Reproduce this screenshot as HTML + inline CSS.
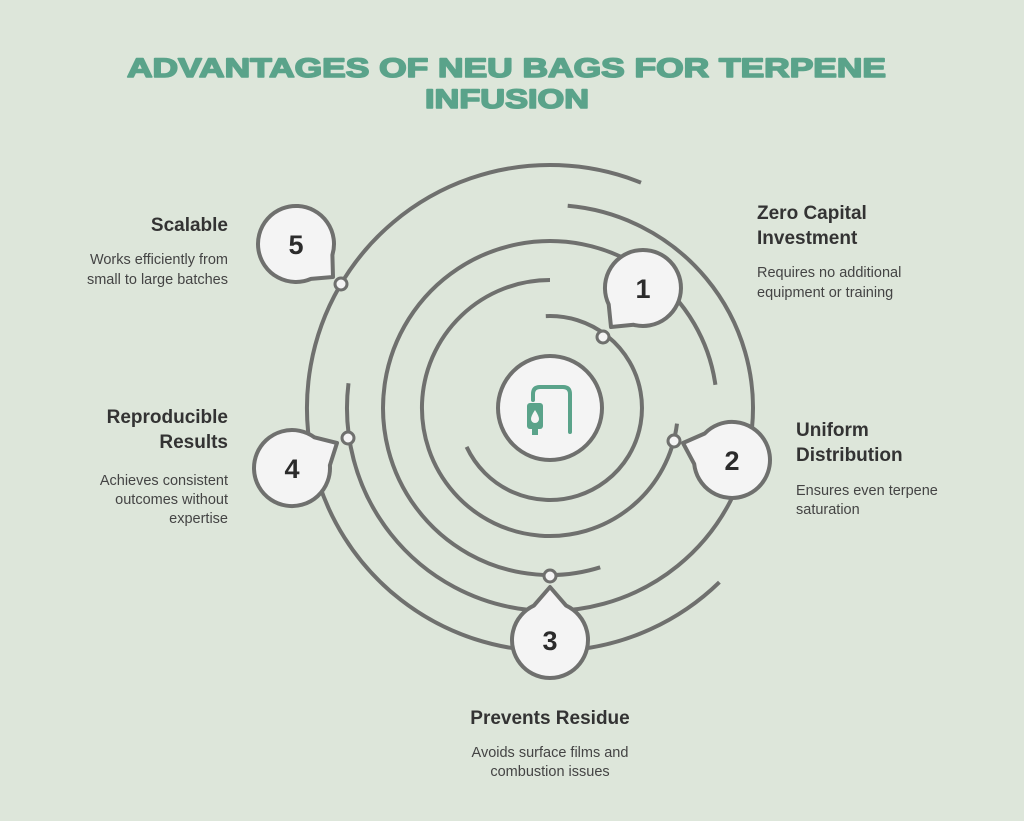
<!DOCTYPE html>
<html><head><meta charset="utf-8"><style>
html,body{margin:0;padding:0;background:#dde6da;}
svg{display:block;}
.h{font-family:"Liberation Sans",sans-serif;font-weight:bold;font-size:19px;fill:#333;}
.d{font-family:"Liberation Sans",sans-serif;font-size:14.5px;fill:#444;}
.n{font-family:"Liberation Sans",sans-serif;font-weight:bold;font-size:27px;fill:#2b2b2b;}
</style></head><body>
<svg width="1024" height="821" viewBox="0 0 1024 821" xmlns="http://www.w3.org/2000/svg">
<rect width="1024" height="821" fill="#dde6da"/>
<g font-family="Liberation Sans, sans-serif" font-weight="bold" font-size="27" fill="#5aa38a" stroke="#5aa38a" stroke-width="1.6" stroke-linejoin="round">
<text x="127" y="77" textLength="759" lengthAdjust="spacingAndGlyphs">ADVANTAGES OF NEU BAGS FOR TERPENE</text>
<text x="425" y="108" textLength="164" lengthAdjust="spacingAndGlyphs">INFUSION</text>
</g>
<g fill="none" stroke="#6f706e" stroke-width="4" stroke-linecap="butt">
<path d="M545.8 316.1 A92 92 0 1 1 466.6 446.9"/>
<path d="M550 280 A128 128 0 1 0 677 423.6"/>
<path d="M715.4 384.8 A167 167 0 1 0 600.2 567.3"/>
<path d="M348.5 383.3 A203 203 0 1 0 567.7 205.8"/>
<path d="M641 182.7 A243 243 0 1 0 719.4 582.2"/>
</g>
<circle cx="550" cy="408" r="52" fill="#f4f4f4" stroke="#6f706e" stroke-width="4"/>
<g fill="none" stroke="#5aa38a" stroke-width="4" stroke-linecap="round">
<path d="M533 400 V394 Q533 387 540 387 H563 Q570 387 570 394 V432"/>
</g>
<rect x="527" y="403" width="16" height="26" rx="3" fill="#5aa38a"/>
<rect x="532" y="429" width="6" height="6" fill="#5aa38a"/>
<path d="M535 410 Q531 416 531 419 A4 4 0 0 0 539 419 Q539 416 535 410Z" fill="#f4f4f4"/>
<g fill="#f4f4f4" stroke="#6f706e" stroke-width="3">
<circle cx="603" cy="337" r="6"/>
<circle cx="674" cy="441" r="6"/>
<circle cx="550" cy="576" r="6"/>
<circle cx="348" cy="438" r="6"/>
<circle cx="341" cy="284" r="6"/>
</g>
<g stroke="#6f706e" stroke-width="4" fill="#f4f4f4" stroke-linejoin="round">
<path d="M633.6 324.8 L611 327 L608.7 304.4 A38 38 0 1 1 633.6 324.8 Z"/>
<path d="M694.2 463.9 L683 443 L704.7 433.5 A38 38 0 1 1 694.2 463.9 Z"/>
<path d="M533.9 605.6 L550 587 L566.1 605.6 A38 38 0 1 1 533.9 605.6 Z"/>
<path d="M314.3 437.3 L337 443 L329.9 465.3 A38 38 0 1 1 314.3 437.3 Z"/>
<path d="M332.4 254.9 L333 277 L311 278.9 A38 38 0 1 1 332.4 254.9 Z"/>
</g>
<g text-anchor="middle">
<text x="643" y="298" class="n">1</text>
<text x="732" y="470" class="n">2</text>
<text x="550" y="650" class="n">3</text>
<text x="292" y="478" class="n">4</text>
<text x="296" y="254" class="n">5</text>
</g>
<text class="h" x="757" y="219">Zero Capital</text>
<text class="h" x="757" y="244">Investment</text>
<text class="d" x="757" y="277">Requires no additional</text>
<text class="d" x="757" y="297">equipment or training</text>
<text class="h" x="796" y="436">Uniform</text>
<text class="h" x="796" y="461">Distribution</text>
<text class="d" x="796" y="495">Ensures even terpene</text>
<text class="d" x="796" y="514">saturation</text>
<g text-anchor="middle">
<text class="h" x="550" y="724">Prevents Residue</text>
<text class="d" x="550" y="757">Avoids surface films and</text>
<text class="d" x="550" y="776">combustion issues</text>
</g>
<g text-anchor="end">
<text class="h" x="228" y="231">Scalable</text>
<text class="d" x="228" y="264">Works efficiently from</text>
<text class="d" x="228" y="284">small to large batches</text>
<text class="h" x="228" y="423">Reproducible</text>
<text class="h" x="228" y="448">Results</text>
<text class="d" x="228" y="485">Achieves consistent</text>
<text class="d" x="228" y="504">outcomes without</text>
<text class="d" x="228" y="523">expertise</text>
</g>
</svg>
</body></html>
